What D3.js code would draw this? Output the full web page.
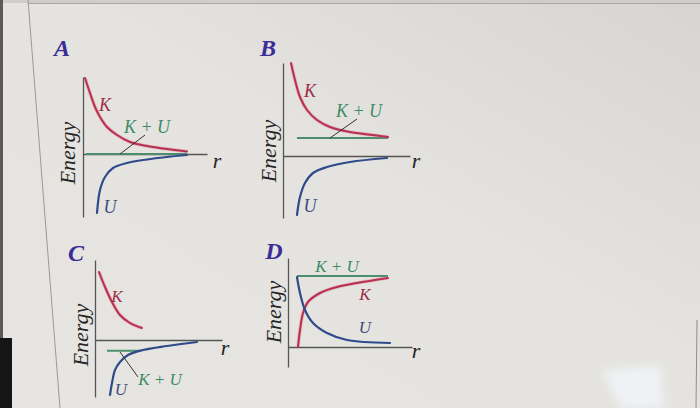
<!DOCTYPE html>
<html>
<head>
<meta charset="utf-8">
<script src="https://cdn.jsdelivr.net/npm/d3@7/dist/d3.min.js"></script>
<style>
html,body{margin:0;padding:0;background:#e3e2de;}
svg{display:block;}
</style>
</head>
<body>
<svg id="chart" width="700" height="408"></svg>
<script>
// ---------- DATA (r, energy) ----------
const panelNames = ["A", "B", "C", "D"];
const curveLabels = ["K", "U", "K + U"];

const kA = [[0.2,7.6],[0.7,6.1],[1.2,4.7],[1.7,3.7],[2.4,2.7],[3.4,1.9],[4.7,1.2],[6.4,0.8],[8.0,0.55],[10.4,0.25]];
const uA = [[1.4,-5.9],[1.7,-3.6],[2.2,-2.3],[3.0,-1.4],[4.4,-0.9],[6.4,-0.55],[8.4,-0.3],[10.4,-0.1]];
const eA = [[0.3,0],[10.4,0]];

const kB = [[0.8,9.3],[1.2,7.6],[1.7,5.9],[2.4,4.6],[3.4,3.6],[4.7,2.9],[6.7,2.4],[9.0,2.1],[10.5,1.9]];
const uB = [[1.4,-5.9],[1.7,-4.1],[2.2,-2.7],[3.0,-1.7],[4.4,-1.1],[6.7,-0.6],[10.4,-0.2]];
const eB = [[1.4,1.8],[10.5,1.8]];

const kC = [[0.4,6.8],[1.0,5.3],[1.7,3.8],[2.5,2.5],[3.5,1.7],[4.7,1.2]];
const uC = [[1.5,-5.5],[1.7,-4.3],[2.0,-3.0],[2.5,-2.2],[3.3,-1.5],[4.8,-1.0],[7.2,-0.6],[10.2,-0.2]];
const eC = [[1.2,-1.07],[4.5,-1.07]];

const kD = [[1.0,0.0],[1.2,1.7],[1.5,3.4],[2.0,4.5],[3.2,5.4],[4.9,6.0],[6.9,6.4],[10.0,6.9]];
const uD = [[0.9,7.0],[1.2,5.4],[1.7,3.7],[2.5,2.4],[3.9,1.4],[5.9,0.7],[10.2,0.4]];
const eD = [[0.9,7.1],[10.0,7.1]];

const seriesData = {A:[kA,uA,eA], B:[kB,uB,eB], C:[kC,uC,eC], D:[kD,uD,eD]};

// pointer lines from the "K + U" label to its line (data units)
const pointers = {A:[[3.7,0],[6.2,1.9]], B:[[4.7,1.8],[7.4,3.7]], C:[[2.5,-1.2],[4.3,-3.7]], D:null};

// ---------- LAYOUT ----------
const layout = {
  A:{ox:83, oy:154, rMax:12.4, eMin:-6.3, eMax:7.7,
     letter:[62,56], energy:[75,153], r:[217,168], K:[105,111], U:[110,213], KU:[147,133], lf:18},
  B:{ox:283, oy:156, rMax:12.7, eMin:-6.2, eMax:9.3,
     letter:[268,56], energy:[276,151], r:[416,168], K:[310,97], U:[310,212], KU:[359,117], lf:18},
  C:{ox:95, oy:340, rMax:12.7, eMin:-5.7, eMax:8.0,
     letter:[76,261], energy:[88,335], r:[225,355], K:[117,302], U:[121,395], KU:[160,385], lf:17},
  D:{ox:288, oy:347, rMax:12.4, eMin:-2.0, eMax:8.9,
     letter:[274,259], energy:[281,312], r:[416,358], K:[365,300], U:[365,333], KU:[337,272], lf:17}
};
const unit = 10; // px per data unit
const colors = {K:"#b83050", U:"#2f4b89", KU:"#4d8e6e", axis:"#555555",
                Ktext:"#9c2c48", Utext:"#3c4d7d", KUtext:"#3f8b68", letter:"#3b2c98"};
const serif = "'Liberation Serif','DejaVu Serif',serif";

const svg = d3.select("#chart");
const defs = svg.append("defs");

// background
const grad = defs.append("linearGradient").attr("id","bg").attr("x1","0").attr("y1","1").attr("x2","1").attr("y2","0");
grad.append("stop").attr("offset","0").attr("stop-color","#e6e5e1");
grad.append("stop").attr("offset","0.55").attr("stop-color","#e4e3df");
grad.append("stop").attr("offset","1").attr("stop-color","#d6d5d1");
svg.append("rect").attr("width",700).attr("height",408).attr("fill","url(#bg)");

// photo decorations
svg.append("rect").attr("x",0).attr("y",0).attr("width",700).attr("height",3).attr("fill","#cfceca");
svg.append("line").attr("x1",28).attr("y1",3.5).attr("x2",700).attr("y2",3.5).attr("stroke","#a9a8a4").attr("stroke-width",1);
svg.append("line").attr("x1",28).attr("y1",0).attr("x2",60).attr("y2",408).attr("stroke","#9a9a94").attr("stroke-width",1);
svg.append("rect").attr("x",0).attr("y",0).attr("width",3).attr("height",408).attr("fill","#5a5a5a");
svg.append("rect").attr("x",0).attr("y",338).attr("width",12).attr("height",70).attr("fill","#151515");
svg.append("line").attr("x1",697).attr("y1",320).attr("x2",696).attr("y2",408).attr("stroke","#8e8e8a").attr("stroke-width",1);
const blur = defs.append("filter").attr("id","glare").attr("x","-50%").attr("y","-50%").attr("width","200%").attr("height","200%");
blur.append("feGaussianBlur").attr("stdDeviation",5);
svg.append("path").attr("d","M603,370 L660,366 L664,408 L620,408 Z").attr("fill","#f1f4f8")
  .attr("fill-opacity",0.85).attr("filter","url(#glare)");

panelNames.forEach(name => {
  const L = layout[name];
  const x = d3.scaleLinear().domain([0, L.rMax]).range([L.ox, L.ox + L.rMax*unit]);
  const y = d3.scaleLinear().domain([L.eMin, L.eMax]).range([L.oy - L.eMin*unit, L.oy - L.eMax*unit]);
  const g = svg.append("g");

  // axes
  const xa = g.append("g").attr("transform",`translate(0,${y(0)})`)
    .call(d3.axisBottom(x).ticks(0).tickSizeOuter(0));
  const ya = g.append("g").attr("transform",`translate(${x(0)},0)`)
    .call(d3.axisLeft(y).ticks(0).tickSizeOuter(0));
  [xa, ya].forEach(a => a.select(".domain").attr("stroke",colors.axis).attr("stroke-width",1.3));

  const line = d3.line().x(d => x(d[0])).y(d => y(d[1])).curve(d3.curveCatmullRom.alpha(0.5));
  const [kd, ud, ed] = seriesData[name];

  g.append("path").datum(ed).attr("d",line).attr("fill","none")
    .attr("stroke",colors.KU).attr("stroke-width",2);
  // soft pink halo for K, like the print
  g.append("path").datum(kd).attr("d",line).attr("fill","none")
    .attr("stroke","#e07a90").attr("stroke-opacity",0.4).attr("stroke-width",3.6);
  g.append("path").datum(kd).attr("d",line).attr("fill","none")
    .attr("stroke",colors.K).attr("stroke-width",2).attr("stroke-linecap","round");
  g.append("path").datum(ud).attr("d",line).attr("fill","none")
    .attr("stroke",colors.U).attr("stroke-width",2.2).attr("stroke-linecap","round");

  const p = pointers[name];
  if (p) {
    g.append("line").attr("x1",x(p[0][0])).attr("y1",y(p[0][1]))
      .attr("x2",x(p[1][0])).attr("y2",y(p[1][1]))
      .attr("stroke","#333").attr("stroke-width",1);
  }

  // texts
  g.append("text").attr("x",L.letter[0]).attr("y",L.letter[1]).attr("text-anchor","middle")
    .attr("font-family",serif).attr("font-style","italic").attr("font-weight","bold")
    .attr("font-size",24).attr("fill",colors.letter).text(name);
  g.append("text").attr("transform",`translate(${L.energy[0]},${L.energy[1]}) rotate(-90)`)
    .attr("text-anchor","middle").attr("font-family",serif).attr("font-style","italic")
    .attr("font-size",22).attr("fill","#242424").text("Energy");
  g.append("text").attr("x",L.r[0]).attr("y",L.r[1]).attr("text-anchor","middle")
    .attr("font-family",serif).attr("font-style","italic").attr("font-size",22)
    .attr("fill","#242424").text("r");
  const lab = (pos, txt, col) => g.append("text").attr("x",pos[0]).attr("y",pos[1])
    .attr("text-anchor","middle").attr("font-family",serif).attr("font-style","italic")
    .attr("font-size",L.lf).attr("fill",col).text(txt);
  lab(L.K, curveLabels[0], colors.Ktext);
  lab(L.U, curveLabels[1], colors.Utext);
  lab(L.KU, curveLabels[2], colors.KUtext);
});
</script>
</body>
</html>
